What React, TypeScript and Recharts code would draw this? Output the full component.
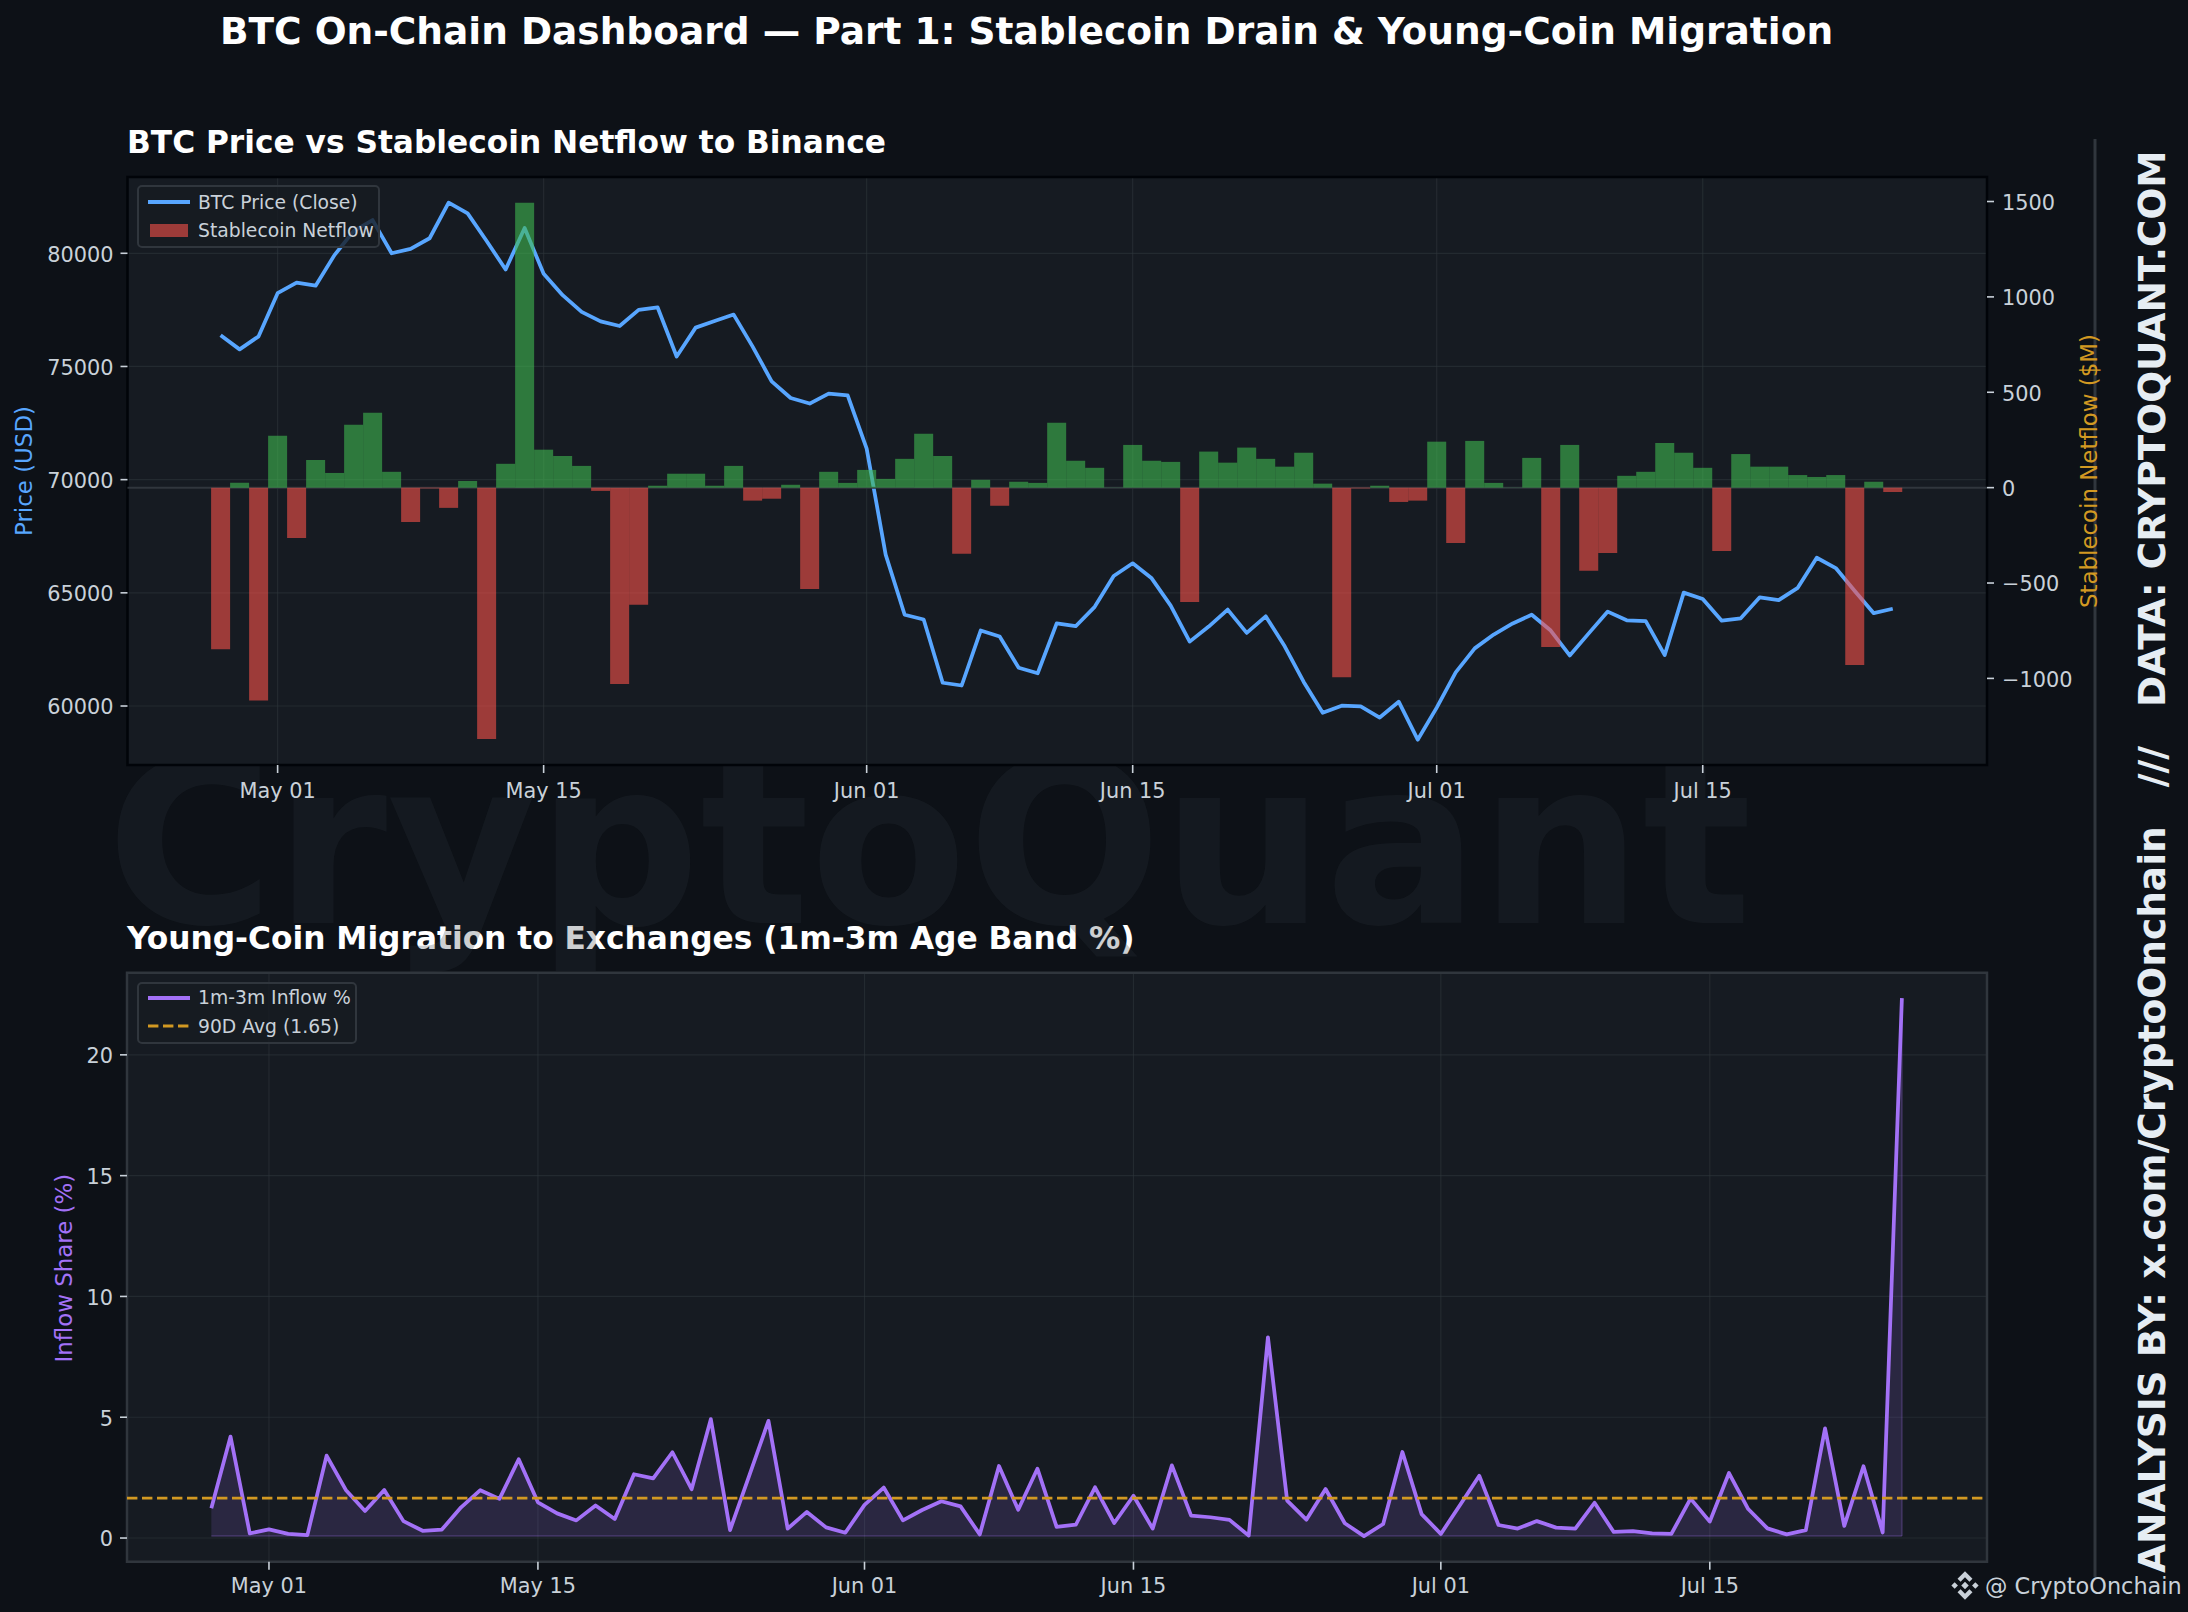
import { Area, Bar, CartesianGrid, Cell, ComposedChart, Line, ReferenceArea, ReferenceLine, XAxis, YAxis } from 'recharts';

// offset of the first sample from May 01, in days (Apr 28)
const FIRST_DAY = -3;

const btcPrice = [
  76384, 75755, 76331, 78236, 78707, 78567, 79930, 80978, 81467, 80000,
  80192, 80664, 82236, 81764, 80540, 79284, 81118, 79092, 78148, 77414,
  76995, 76786, 77502, 77607, 75440, 76716, 77013, 77292, 75877, 74340,
  73606, 73361, 73798, 73728, 71370, 66688, 64032, 63823, 61028, 60906,
  63334, 63072, 61692, 61447, 63648, 63526, 64382, 65745, 66304, 65640,
  64435, 62845, 63509, 64260, 63229, 63963, 62635, 61063, 59700, 60015,
  59980, 59491, 60190, 58513, 59928, 61482, 62546, 63158, 63648, 64032,
  63334, 62233, 63210, 64171, 63787, 63753, 62250, 65010, 64730, 63770,
  63875, 64800, 64680, 65220, 66550, 66095, 65080, 64100, 64295,
];

const stableNetflow = [
  -847, 25, -1116, 272, -264, 145, 77, 330, 392, 83,
  -180, -4, -106, 35, -1318, 125, 1494, 199, 166, 114,
  -17, -1029, -614, 10, 73, 73, 10, 114, -68, -58,
  15, -531, 83, 25, 93, 46, 151, 282, 166, -347,
  41, -95, 31, 25, 340, 141, 104, 1, 224, 141,
  135, -600, 189, 131, 210, 151, 110, 183, 21, -994,
  -4, 10, -75, -68, 241, -290, 245, 25, 1, 156,
  -836, 224, -436, -342, 62, 83, 234, 183, 104, -332,
  176, 110, 110, 66, 56, 66, -930, 31, -23,
];

const inflowShare = [
  1.23, 4.2, 0.19, 0.36, 0.17, 0.12, 3.41, 1.99, 1.12, 1.99,
  0.7, 0.3, 0.35, 1.27, 1.98, 1.62, 3.26, 1.48, 1.02, 0.73,
  1.35, 0.79, 2.64, 2.47, 3.55, 2.02, 4.92, 0.33, 2.58, 4.85,
  0.39, 1.08, 0.44, 0.22, 1.37, 2.09, 0.73, 1.16, 1.52, 1.31,
  0.15, 2.98, 1.17, 2.87, 0.46, 0.55, 2.1, 0.62, 1.75, 0.39,
  3.01, 0.93, 0.86, 0.75, 0.1, 8.31, 1.55, 0.76, 2.03, 0.61,
  0.08, 0.58, 3.56, 0.99, 0.17, 1.37, 2.58, 0.54, 0.39, 0.7,
  0.43, 0.39, 1.46, 0.25, 0.29, 0.19, 0.17, 1.63, 0.68, 2.69,
  1.2, 0.4, 0.15, 0.33, 4.54, 0.5, 2.97, 0.23, 22.35,
];

const AVG_INFLOW = 1.65;
const INFLOW_BASE = 0.08;

const tickDays = [0, 14, 31, 45, 61, 75];
const tickLabels = ['May 01', 'May 15', 'Jun 01', 'Jun 15', 'Jul 01', 'Jul 15'];
const priceTicks = [60000, 65000, 70000, 75000, 80000];
const netflowTicks = [-1000, -500, 0, 500, 1000, 1500];
const inflowTicks = [0, 5, 10, 15, 20];

const priceRows = btcPrice.map((price, i) => ({ day: FIRST_DAY + i, price, netflow: stableNetflow[i] }));
const inflowRows = inflowShare.map((share, i) => ({ day: FIRST_DAY + i, share }));
const lastDay = FIRST_DAY + inflowShare.length - 1;

const FONT = '"DejaVu Sans", sans-serif';
const BG = '#0d1117';
const PANEL = '#161b22';
const BORDER = '#30363d';
const TEXT = '#c9d1d9';
const BLUE = '#58a6ff';
const PURPLE = '#a371f7';
const AMBER = '#d29922';

const dayLabel = (d: number) => tickLabels[tickDays.indexOf(d)] ?? '';
const minusSign = (v: number) => String(v).replace('-', '\u2212');
const tickStyle = { fill: TEXT, fontSize: 20.83, fontFamily: FONT };
const yTickStyle = { ...tickStyle, dy: 1 };
const tickLine = { stroke: TEXT, strokeWidth: 1.6 };

const priceX: [number, number] = [-7.9, 89.96];
const priceY: [number, number] = [57394, 83370];
const flowY: [number, number] = [-1454, 1628.5];
const inflowX: [number, number] = [-7.39, 89.43];
const inflowY: [number, number] = [-0.98, 23.4];

function PriceChart() {
  return (
    <div style={{ position: 'absolute', left: 0, top: 0 }}>
      <ComposedChart width={2188} height={830} data={priceRows} margin={{ top: 177, right: 0, bottom: 0, left: 0 }}>
        <CartesianGrid yAxisId="price" fill={PANEL} stroke={BORDER} strokeOpacity={0.55} strokeWidth={1.2} verticalValues={tickDays} horizontalValues={priceTicks} />
        <XAxis dataKey="day" type="number" domain={priceX} ticks={tickDays} tickFormatter={dayLabel} height={65} tick={tickStyle} tickLine={tickLine} tickSize={8} tickMargin={10} axisLine={false} allowDataOverflow interval={0} />
        <YAxis yAxisId="price" domain={priceY} ticks={priceTicks} width={127.5} tick={yTickStyle} tickLine={tickLine} tickSize={7} tickMargin={7} axisLine={false} allowDataOverflow interval={0}
          label={{ value: 'Price (USD)', angle: -90, position: 'center', dx: -39.75, fill: BLUE, fontSize: 22.9, fontFamily: FONT }} />
        <YAxis yAxisId="flow" orientation="right" domain={flowY} ticks={netflowTicks} tickFormatter={minusSign} width={201} tick={yTickStyle} tickLine={tickLine} tickSize={7} tickMargin={8} axisLine={false} allowDataOverflow interval={0}
          label={{ value: 'Stablecoin Netflow ($M)', angle: -90, position: 'center', dx: 1.5, fill: AMBER, fontSize: 22.9, fontFamily: FONT }} />
        <Line yAxisId="price" dataKey="price" type="linear" stroke={BLUE} strokeWidth={3.75} strokeLinejoin="round" dot={false} isAnimationActive={false} zIndex={200} />
        <Bar yAxisId="flow" dataKey="netflow" barSize={19} isAnimationActive={false} fillOpacity={0.6} zIndex={500}>
          {stableNetflow.map((v, i) => (
            <Cell key={i} fill={v >= 0 ? '#3fb950' : '#f85149'} />
          ))}
        </Bar>
        <ReferenceLine yAxisId="flow" y={0} stroke={BORDER} strokeWidth={2} />
        <ReferenceArea yAxisId="price" x1={priceX[0]} x2={priceX[1]} y1={priceY[0]} y2={priceY[1]} fill="none" stroke="#010409" strokeWidth={2.5} />
      </ComposedChart>
    </div>
  );
}

function InflowChart() {
  return (
    <div style={{ position: 'absolute', left: 0, top: 900 }}>
      <ComposedChart width={2188} height={712} data={inflowRows} margin={{ top: 72.7, right: 201, bottom: 0, left: 0 }}>
        <CartesianGrid fill={PANEL} stroke={BORDER} strokeOpacity={0.55} strokeWidth={1.2} verticalValues={tickDays} horizontalValues={inflowTicks} />
        <XAxis dataKey="day" type="number" domain={inflowX} ticks={tickDays} tickFormatter={dayLabel} height={50.3} tick={tickStyle} tickLine={tickLine} tickSize={8} tickMargin={9} axisLine={false} allowDataOverflow interval={0} />
        <YAxis domain={inflowY} ticks={inflowTicks} width={127} tick={yTickStyle} tickLine={tickLine} tickSize={7} tickMargin={7} axisLine={false} allowDataOverflow interval={0}
          label={{ value: 'Inflow Share (%)', angle: -90, position: 'center', dy: 1, fill: PURPLE, fontSize: 22.9, fontFamily: FONT }} />
        <Area dataKey="share" type="linear" baseValue={INFLOW_BASE} fill={PURPLE} fillOpacity={0.15} stroke="none" isAnimationActive={false} />
        <ReferenceLine segment={[{ x: FIRST_DAY, y: INFLOW_BASE }, { x: lastDay, y: INFLOW_BASE }]} stroke={PURPLE} strokeOpacity={0.2} strokeWidth={2} />
        <ReferenceLine segment={[{ x: lastDay, y: INFLOW_BASE }, { x: lastDay, y: inflowShare[inflowShare.length - 1] }]} stroke={PURPLE} strokeOpacity={0.2} strokeWidth={2} />
        <Line dataKey="share" type="linear" stroke={PURPLE} strokeWidth={3.75} strokeLinejoin="round" dot={false} isAnimationActive={false} />
        <ReferenceLine y={AVG_INFLOW} stroke={AMBER} strokeWidth={2.9} strokeDasharray="10.4 4.6" />
        <ReferenceArea x1={inflowX[0]} x2={inflowX[1]} y1={inflowY[0]} y2={inflowY[1]} fill="none" stroke={BORDER} strokeWidth={2.5} />
      </ComposedChart>
    </div>
  );
}

function LegendBox({ left, top, width, height, rowTop, items }: { left: number; top: number; width: number; height: number; rowTop: number; items: { label: string; key: React.ReactNode }[] }) {
  return (
    <div style={{ position: 'absolute', left, top, width, height, boxSizing: 'border-box', background: 'rgba(22,27,34,0.8)', border: `2px solid ${BORDER}`, borderRadius: 5, fontFamily: FONT, fontSize: 18.75, color: TEXT }}>
      {items.map((it, i) => (
        <div key={it.label} style={{ position: 'absolute', left: 0, top: rowTop + i * 28.7, height: 24, display: 'flex', alignItems: 'center', whiteSpace: 'pre' }}>
          <div style={{ width: 59, display: 'flex', justifyContent: 'center' }}>{it.key}</div>
          <span>{it.label}</span>
        </div>
      ))}
    </div>
  );
}

export default function App() {
  return (
    <div style={{ position: 'absolute', left: 0, top: 0, width: 2188, height: 1612, background: BG, overflow: 'hidden' }}>
      <svg width={2188} height={1612} style={{ position: 'absolute', left: 0, top: 0 }} fontFamily={FONT}>
        <text x={1026.5} y={44} textAnchor="middle" fontSize={37.5} fontWeight="bold" fill="#ffffff">BTC On-Chain Dashboard — Part 1: Stablecoin Drain &amp; Young-Coin Migration</text>
        <text x={127} y={153} fontSize={31.25} fontWeight="bold" fill="#ffffff">BTC Price vs Stablecoin Netflow to Binance</text>
        <text x={127} y={949} fontSize={31.25} fontWeight="bold" fill="#ffffff">Young-Coin Migration to Exchanges (1m-3m Age Band %)</text>
        <text x={929} y={923} textAnchor="middle" fontSize={229} fontWeight="bold" fill={BORDER} fillOpacity={0.24}>CryptoQuant</text>
        <line x1={2095} y1={139} x2={2095} y2={1577} stroke={BORDER} strokeWidth={3} />
        <text transform="translate(2165 1573) rotate(-90)" fontSize={37.5} fontWeight="bold" fill="#e6edf3" style={{ whiteSpace: 'pre' }}>ANALYSIS BY: x.com/CryptoOnchain   ///   DATA: CRYPTOQUANT.COM</text>
        <text x={1985} y={1594} fontSize={22.4} fill={TEXT} style={{ whiteSpace: 'pre' }}>@ CryptoOnchain</text>
        <g fill={TEXT} transform="translate(1965 1585.5) scale(1.1)">
          <path d="M0 -13 L6.8 -6.2 L4 -3.4 L0 -7.4 L-4 -3.4 L-6.8 -6.2 Z" />
          <path d="M0 13 L6.8 6.2 L4 3.4 L0 7.4 L-4 3.4 L-6.8 6.2 Z" />
          <path d="M0 -3.4 L3.4 0 L0 3.4 L-3.4 0 Z" />
          <path d="M-9.4 -3 L-6.4 0 L-9.4 3 L-12.4 0 Z" />
          <path d="M9.4 -3 L12.4 0 L9.4 3 L6.4 0 Z" />
        </g>
      </svg>
      <PriceChart />
      <InflowChart />
      <LegendBox left={137} top={185} width={243} height={63} rowTop={3} items={[
        { label: 'BTC Price (Close)', key: <div style={{ width: 42, height: 3.75, background: BLUE }} /> },
        { label: 'Stablecoin Netflow', key: <div style={{ width: 38, height: 13, background: '#f85149', opacity: 0.6 }} /> },
      ]} />
      <LegendBox left={137} top={982} width={220} height={62} rowTop={1.7} items={[
        { label: '1m-3m Inflow %', key: <div style={{ width: 42, height: 3.75, background: PURPLE }} /> },
        { label: '90D Avg (1.65)', key: <svg width={42} height={4}><line x1={0} y1={2} x2={42} y2={2} stroke={AMBER} strokeWidth={2.9} strokeDasharray="10.4 4.6" /></svg> },
      ]} />
    </div>
  );
}
